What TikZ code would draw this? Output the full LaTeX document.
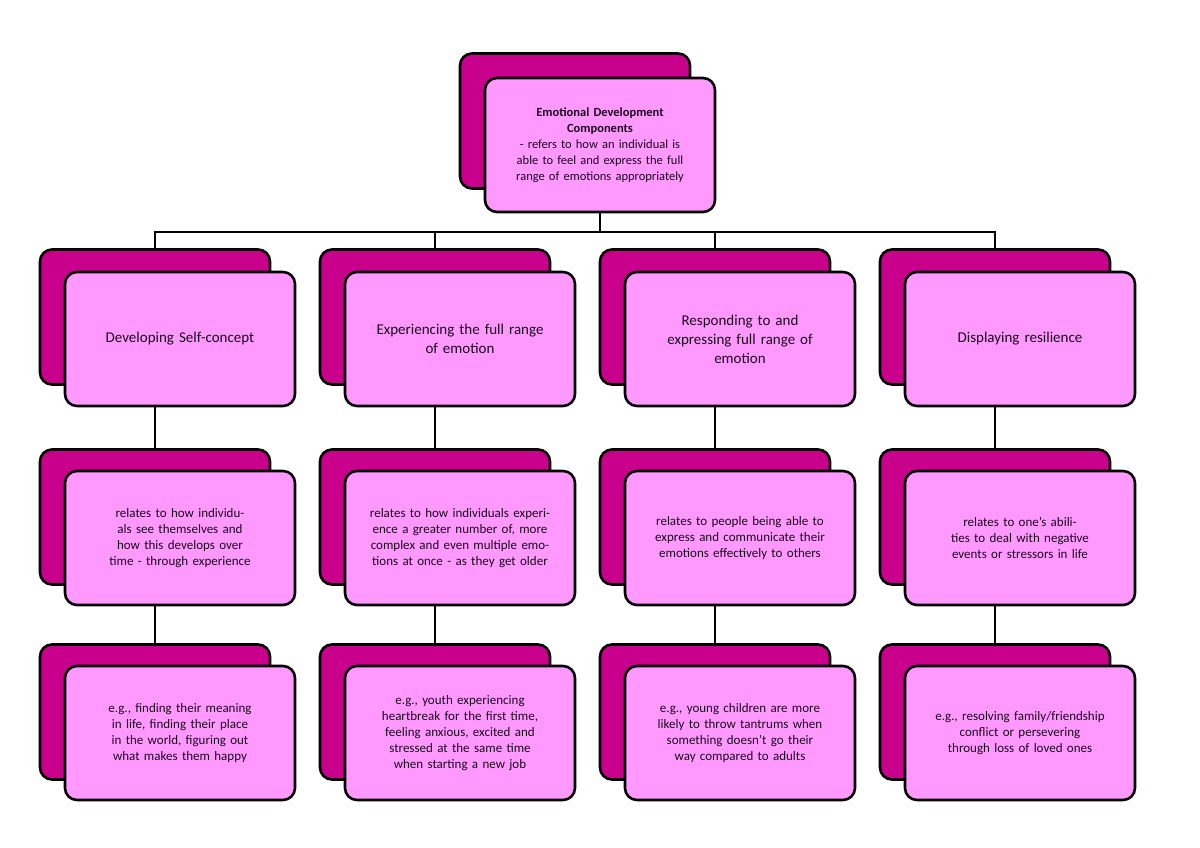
\documentclass[tikz,border=0pt]{standalone}
\usepackage{fontspec}
\setmainfont{Carlito}
\definecolor{back}{HTML}{C8008C}
\definecolor{front}{HTML}{FF99FF}
\definecolor{txt}{HTML}{1A0A1A}
\begin{document}
\begin{tikzpicture}[x=1pt,y=-1pt,
 bk/.style={draw=black,line width=2.6pt,fill=back,rounded corners=12pt,minimum width=230pt,minimum height=135pt,inner sep=0pt},
 fr/.style={draw=black,line width=2.6pt,fill=front,rounded corners=12pt,minimum width=230pt,minimum height=134pt,align=center,text width=200pt,font=\fontsize{13}{16}\selectfont,text=txt,inner sep=0pt},
 ln/.style={line width=2.6pt}]
\useasboundingbox (0,0) rectangle (1200,848);
\node[bk] (tb) at (575,121) {};
\node[fr,text width=180pt,font=\fontsize{12.5}{16}\selectfont] (tf) at (600,145) {\textbf{Emotional Development}\\\textbf{Components}\\- refers to how an individual is able to feel and express the full range of emotions appropriately};
\coordinate (hb) at (600,232);
\foreach \i/\x/\a/\b/\c in {
 1/155/{Developing Self-concept}/{relates to how individuals see themselves and how this develops over time - through experience}/{e.g., finding their meaning in life, finding their place in the world, figuring out what makes them happy},
 2/435/{Experiencing the full range\\of emotion}/{relates to how individuals experience a greater number of, more complex and even multiple emotions at once - as they get older}/{e.g., youth experiencing heartbreak for the first time, feeling anxious, excited and stressed at the same time when starting a new job},
 3/715/{Responding to and\\expressing full range of\\emotion}/{relates to people being able to express and communicate their emotions effectively to others}/{e.g., young children are more likely to throw tantrums when something doesn't go their way compared to adults},
 4/995/{Displaying resilience}/{relates to one's abilities to deal with negative events or stressors in life}/{e.g., resolving family/friendship conflict or persevering through loss of loved ones}}{
 \node[bk] (a\i) at (\x,317) {};
 \node[fr,font=\fontsize{15}{19}\selectfont] (fa\i) at (\x+25,339) {\a};
 \node[bk] (b\i) at (\x,517) {};
 \node[fr,text width=185pt] (fb\i) at (\x+25,538) {\b};
 \node[bk] (c\i) at (\x,712) {};
 \node[fr,text width=185pt] (fc\i) at (\x+25,733) {\c};
 \draw[ln] (b\i.north) -- (b\i.north |- fa\i.south);
 \draw[ln] (c\i.north) -- (c\i.north |- fb\i.south);
}
\draw[ln] (tf.south) -- (hb);
\draw[ln] (a1.north) -- (a1.north |- hb) -- (a4.north |- hb) -- (a4.north);
\draw[ln] (a2.north) -- (a2.north |- hb);
\draw[ln] (a3.north) -- (a3.north |- hb);
\end{tikzpicture}
\end{document}
